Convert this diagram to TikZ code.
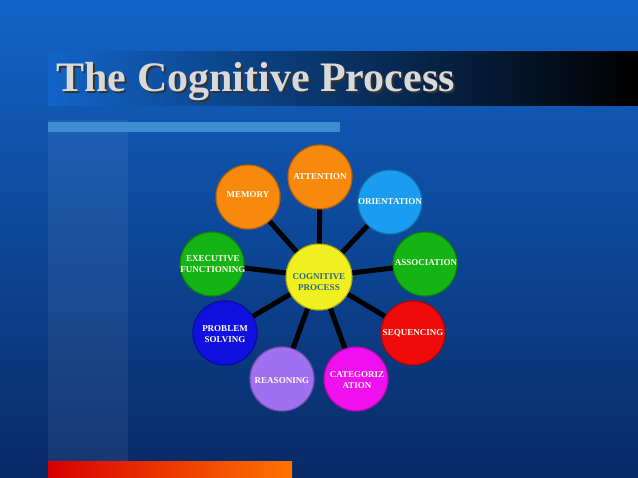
\documentclass[tikz,border=0pt]{standalone}
\usepackage{fontspec}
\setmainfont{Liberation Serif}
\begin{document}
\begin{tikzpicture}[x=1pt,y=-1pt,
  lbl/.style={font=\fontsize{9}{11}\selectfont\bfseries,text=white!92!yellow,align=center},
  bub/.style={circle,minimum size=64pt,inner sep=0pt,draw=#1!70!black,line width=1pt,fill=#1},
  spoke/.style={line width=5pt,black}]
\definecolor{bgtop}{HTML}{1264C8}\definecolor{bgbot}{HTML}{082A66}
\definecolor{att}{HTML}{F7890F}\definecolor{ori}{HTML}{1A9CF0}\definecolor{grn}{HTML}{14B414}
\definecolor{seq}{HTML}{F00A0A}\definecolor{cat}{HTML}{EE10EE}\definecolor{rea}{HTML}{A070F0}
\definecolor{pro}{HTML}{1010E0}\definecolor{yel}{HTML}{F0F020}\definecolor{ctr}{HTML}{2A6A80}
\useasboundingbox (0,0) rectangle (638,478);
\shade[top color=bgtop,bottom color=bgbot] (0,0) rectangle (638,478);
\fill[white,opacity=0.06] (48,120) rectangle (128,478);
\shade[left color=bgtop,right color=black] (48,52) rectangle (638,106);
\fill[cyan!60!blue!80!white] (48,122) rectangle (340,132);
\shade[left color=red!85!black,right color=orange!90!red] (48,462) rectangle (292,478);
\node[anchor=west,font=\fontsize{42}{46}\selectfont\bfseries,text=gray!30] (title) at (53,83)
  {\rlap{\kern2pt\raisebox{-2pt}{\textcolor{black!80}{The Cognitive Process}}}The Cognitive Process};
\node[bub=yel,minimum size=66pt] (c) at (319,277) {};
\node[bub=att] (att) at (320,177) {};
\node[bub=ori] (ori) at (390,202) {};
\node[bub=grn] (asc) at (425,264) {};
\node[bub=seq] (seq) at (413,333) {};
\node[bub=cat] (cat) at (356,379) {};
\node[bub=rea] (rea) at (282,379) {};
\node[bub=pro] (pro) at (225,333) {};
\node[bub=grn] (exe) at (212,264) {};
\node[bub=att] (mem) at (248,197) {};
\foreach \n in {att,ori,asc,seq,cat,rea,pro,exe,mem} \draw[spoke] (c.center) -- (\n.center);
\foreach \n/\co in {att/att,ori/ori,asc/grn,seq/seq,cat/cat,rea/rea,pro/pro,exe/grn,mem/att}
  \fill[\co,draw=\co!70!black,line width=1pt] (\n) circle (32pt);
\fill[yel,draw=yel!70!black,line width=1pt] (c) circle (33pt);
\node[lbl] at (320,177) {ATTENTION};
\node[lbl] at (390,202) {ORIENTATION};
\node[lbl] at (426,263) {ASSOCIATION};
\node[lbl] at (413,333) {SEQUENCING};
\node[lbl] at (357,380) {CATEGORIZ\\ATION};
\node[lbl] at (282,381) {REASONING};
\node[lbl] at (225,334) {PROBLEM\\SOLVING};
\node[lbl] at (213,264) {EXECUTIVE\\FUNCTIONING};
\node[lbl] at (248,195) {MEMORY};
\node[lbl,text=ctr] at (319,282) {COGNITIVE\\PROCESS};
\end{tikzpicture}
\end{document}
